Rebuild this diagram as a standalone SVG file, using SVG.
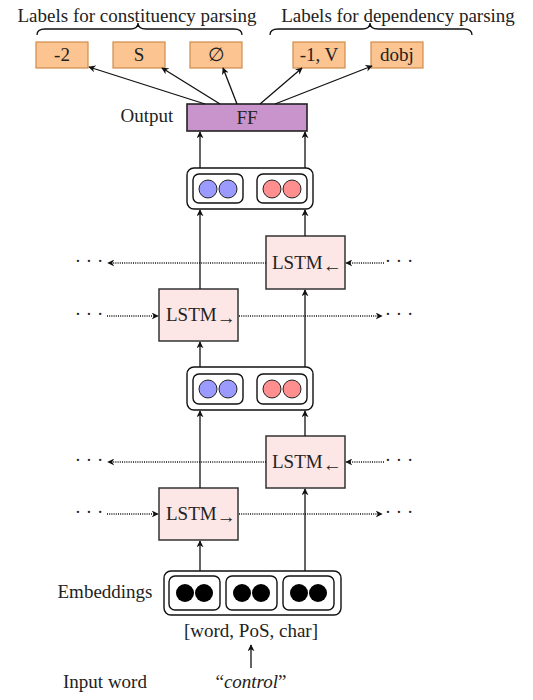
<svg xmlns="http://www.w3.org/2000/svg" width="533" height="700" viewBox="0 0 533 700">
<defs>
<style>
text{font-family:"Times New Roman","Liberation Serif","Noto Serif","DejaVu Serif",Times,serif;font-size:19px;fill:#222}
.c{text-anchor:middle}
.sub{font-size:19px}
.lbl{fill:#fbc490;stroke:#cf8c4c;stroke-width:1.2}
.ff{fill:#c994cb;stroke:#222;stroke-width:1.6}
.lstm{fill:#fde6e6;stroke:#333;stroke-width:1.5}
.rb{fill:#fff;stroke:#111;stroke-width:1.4}
.ln{stroke:#111;stroke-width:1.3;fill:none}
.dt{stroke:#111;stroke-width:1.3;fill:none;stroke-dasharray:1 1.2}
.blue{fill:#9b9bff;stroke:#222;stroke-width:1}
.red{fill:#ff8f8f;stroke:#222;stroke-width:1}
.blk{fill:#000}
</style>
<marker id="ah" viewBox="0 0 10 10" refX="9" refY="5" markerWidth="7" markerHeight="7" markerUnits="userSpaceOnUse" orient="auto">
<path d="M0,0 L10,5 L0,10 L3,5 Z" fill="#111"/>
</marker>
</defs>

<g id="headers">
<text x="137" y="22" class="c">Labels for constituency parsing</text>
<text x="398" y="22" class="c">Labels for dependency parsing</text>
<path class="ln" d="M37,35 Q37,29 45,29 L130,29 Q138,29 138,23 Q138,29 146,29 L234,29 Q242,29 242,35"/>
<path class="ln" d="M270,35 Q270,29 278,29 L362,29 Q370,29 370,23 Q370,29 378,29 L464,29 Q472,29 472,35"/>
</g>

<g id="lab-m2"><rect class="lbl" x="36" y="42" width="52" height="26"/><text x="62" y="61" class="c">-2</text></g>
<g id="lab-S"><rect class="lbl" x="113" y="42" width="52" height="26"/><text x="139" y="61" class="c">S</text></g>
<g id="lab-empty"><rect class="lbl" x="190" y="42" width="52" height="26"/><text x="216" y="61" class="c">∅</text></g>
<g id="lab-m1V"><rect class="lbl" x="293" y="42" width="52" height="26"/><text x="319" y="61" class="c">-1, V</text></g>
<g id="lab-dobj"><rect class="lbl" x="371" y="42" width="52" height="26"/><text x="397" y="61" class="c">dobj</text></g>

<g id="ff"><rect class="ff" x="187" y="104" width="120" height="27"/><text x="247" y="124" class="c">FF</text></g>
<text x="147" y="122" class="c">Output</text>

<g id="concat-top">
<rect class="rb" x="187" y="168" width="126" height="41" rx="7"/>
<rect class="rb" x="193" y="174" width="50" height="29" rx="6"/>
<rect class="rb" x="257" y="174" width="50" height="29" rx="6"/>
<circle class="blue" cx="208" cy="189" r="9"/><circle class="blue" cx="228" cy="189" r="9"/>
<circle class="red" cx="272" cy="189" r="9"/><circle class="red" cx="292" cy="189" r="9"/>
</g>

<g id="lstm-b-top"><rect class="lstm" x="266" y="236" width="79" height="53"/><text x="272" y="269">LSTM<tspan class="sub" dy="3">←</tspan></text></g>
<g id="lstm-f-top"><rect class="lstm" x="159" y="289" width="79" height="52"/><text x="166" y="321">LSTM<tspan class="sub" dy="3">→</tspan></text></g>

<g id="concat-mid">
<rect class="rb" x="187" y="367" width="126" height="43" rx="7"/>
<rect class="rb" x="193" y="374" width="50" height="30" rx="6"/>
<rect class="rb" x="257" y="374" width="50" height="30" rx="6"/>
<circle class="blue" cx="208" cy="389" r="9"/><circle class="blue" cx="228" cy="389" r="9"/>
<circle class="red" cx="272" cy="389" r="9"/><circle class="red" cx="292" cy="389" r="9"/>
</g>

<g id="lstm-b-bot"><rect class="lstm" x="266" y="436" width="79" height="52"/><text x="272" y="468">LSTM<tspan class="sub" dy="3">←</tspan></text></g>
<g id="lstm-f-bot"><rect class="lstm" x="159" y="488" width="79" height="52"/><text x="166" y="520">LSTM<tspan class="sub" dy="3">→</tspan></text></g>

<g id="embeddings">
<rect class="rb" x="164" y="571" width="177" height="44" rx="7"/>
<rect class="rb" x="169" y="576" width="51" height="34" rx="6"/>
<rect class="rb" x="226" y="576" width="51" height="34" rx="6"/>
<rect class="rb" x="283" y="576" width="51" height="34" rx="6"/>
<circle class="blk" cx="185" cy="593" r="9"/><circle class="blk" cx="204" cy="593" r="9"/>
<circle class="blk" cx="242" cy="593" r="9"/><circle class="blk" cx="261" cy="593" r="9"/>
<circle class="blk" cx="299" cy="593" r="9"/><circle class="blk" cx="318" cy="593" r="9"/>
</g>
<text x="105" y="598" class="c">Embeddings</text>
<text x="251" y="637" class="c">[word, PoS, char]</text>
<text x="105" y="688" class="c">Input word</text>
<text x="251" y="688" class="c">“<tspan font-style="italic">control</tspan>”</text>

<g id="dots">
<text x="89" y="267" class="c">· · ·</text><text x="399" y="267" class="c">· · ·</text>
<text x="89" y="320" class="c">· · ·</text><text x="399" y="320" class="c">· · ·</text>
<text x="89" y="466" class="c">· · ·</text><text x="399" y="466" class="c">· · ·</text>
<text x="89" y="518" class="c">· · ·</text><text x="399" y="518" class="c">· · ·</text>
</g>

<g id="connectors">
<path class="ln" marker-end="url(#ah)" d="M205,104 L89,67"/>
<path class="ln" marker-end="url(#ah)" d="M220,104 L162,68"/>
<path class="ln" marker-end="url(#ah)" d="M237,104 L223,68"/>
<path class="ln" marker-end="url(#ah)" d="M260,104 L302,68"/>
<path class="ln" marker-end="url(#ah)" d="M275,104 L372,66"/>

<path class="ln" marker-end="url(#ah)" d="M200,168 L200,132"/>
<path class="ln" marker-end="url(#ah)" d="M305,168 L305,132"/>
<path class="ln" marker-end="url(#ah)" d="M200,289 L200,210"/>
<path class="ln" marker-end="url(#ah)" d="M305,236 L305,210"/>
<path class="ln" marker-end="url(#ah)" d="M200,367 L200,342"/>
<path class="ln" marker-end="url(#ah)" d="M305,367 L305,290"/>
<path class="ln" marker-end="url(#ah)" d="M200,488 L200,411"/>
<path class="ln" marker-end="url(#ah)" d="M305,436 L305,411"/>
<path class="ln" marker-end="url(#ah)" d="M200,571 L200,541"/>
<path class="ln" marker-end="url(#ah)" d="M305,571 L305,489"/>
<path class="ln" marker-end="url(#ah)" d="M251,668 L251,645"/>

<path class="dt" marker-end="url(#ah)" d="M266,263 L108,263"/>
<path class="dt" marker-end="url(#ah)" d="M384,263 L346,263"/>
<path class="dt" marker-end="url(#ah)" d="M107,316 L158,316"/>
<path class="dt" marker-end="url(#ah)" d="M239,316 L382,316"/>
<path class="dt" marker-end="url(#ah)" d="M266,462 L108,462"/>
<path class="dt" marker-end="url(#ah)" d="M384,462 L346,462"/>
<path class="dt" marker-end="url(#ah)" d="M107,514 L158,514"/>
<path class="dt" marker-end="url(#ah)" d="M239,514 L382,514"/>
</g>
</svg>
